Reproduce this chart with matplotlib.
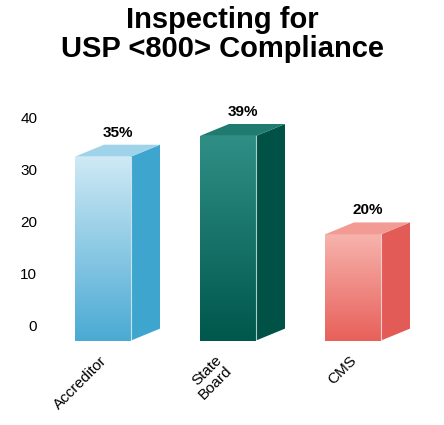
import matplotlib
matplotlib.use("Agg")
import matplotlib.pyplot as plt
import numpy as np
from matplotlib.patches import Polygon

plt.rcParams['font.family'] = ['Liberation Sans', 'DejaVu Sans']

categories = ['Accreditor', 'State\nBoard', 'CMS']
values = [35, 39, 20]
pct_labels = ['35%', '39%', '20%']
front_top = ['#cfe9f5', '#2f8f86', '#f7b3ad']
front_bot = ['#4aaad4', '#00574c', '#e8605a']
side_cols = ['#3ea5cf', '#005247', '#e25b57']
top_cols = ['#9fd3ea', '#1f7a70', '#f29a94']

fig = plt.figure(figsize=(4.44, 4.25), dpi=100)
ax = fig.add_axes([40/444, 80/425, 380/444, 235/425])
ax.set_xlim(-0.504, 2.536)
ax.set_ylim(-3.86, 41.5)

w = 0.448
dx, dy = 0.232, 2.3
base = -3.0
for i, v in enumerate(values):
    x0 = i - w/2
    x1 = i + w/2
    top = v - 2.5
    # front face with vertical gradient
    grad = np.linspace(0, 1, 256).reshape(-1, 1)
    c0 = np.array(matplotlib.colors.to_rgb(front_bot[i]))
    c1 = np.array(matplotlib.colors.to_rgb(front_top[i]))
    img = c0 + (c1 - c0) * grad[..., None]
    im = ax.imshow(img, extent=[x0, x1, base, top], origin='lower',
                   aspect='auto', zorder=2)
    front = Polygon([[x0, base], [x1, base], [x1, top], [x0, top]],
                    closed=True, fc='none', ec='none')
    ax.add_patch(front)
    im.set_clip_path(front)
    # side face
    ax.add_patch(Polygon([[x1, base], [x1 + dx, base + dy], [x1 + dx, top + dy], [x1, top]],
                         closed=True, fc=side_cols[i], ec='none', zorder=2))
    # top face
    ax.add_patch(Polygon([[x0, top], [x1, top], [x1 + dx, top + dy], [x0 + dx, top + dy]],
                         closed=True, fc=top_cols[i], ec='none', zorder=2))
    ax.plot([x1, x1], [base, top], color='white', lw=0.8, alpha=0.7, zorder=3)
    ax.text(i + dx/2, top + dy + 1.0, pct_labels[i], ha='center', va='bottom',
            fontsize=11, fontweight='bold')
    ax.text(i + 0.05, -5.5, categories[i], rotation=45, ha='right', va='top',
            fontsize=11, linespacing=1.0)

ax.set_yticks([0, 10, 20, 30, 40])
ax.set_xticks([])
ax.tick_params(axis='y', length=0, labelsize=11, pad=2)
for s in ax.spines.values():
    s.set_visible(False)

fig.text(0.5, 0.985, 'Inspecting for\nUSP <800> Compliance', ha='center', va='top',
         fontsize=21, fontweight='bold', linespacing=1.05)

fig.savefig('out.png', dpi=100)
